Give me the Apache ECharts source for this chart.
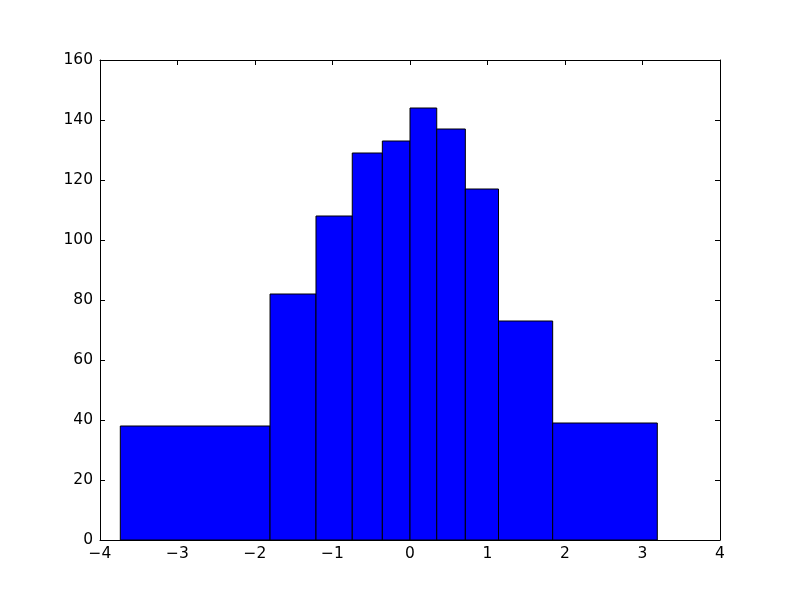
<!DOCTYPE html>
<html>
<head>
<meta charset="utf-8">
<script src="https://cdn.jsdelivr.net/npm/echarts@6/dist/echarts.min.js"></script>
<style>html,body{margin:0;padding:0;background:#fff}#c{width:800px;height:600px}</style>
</head>
<body>
<div id="c"></div>
<script>
// bin edges and counts
var binEdges = [-3.738, -1.806, -1.213, -0.745, -0.357, 0.0, 0.345, 0.714, 1.142, 1.841, 3.191];
var counts = [38, 82, 108, 129, 133, 144, 137, 117, 73, 39];
var xTicks = [-4, -3, -2, -1, 0, 1, 2, 3, 4];
var yTicks = [0, 20, 40, 60, 80, 100, 120, 140, 160];

var data = counts.map(function (c, i) { return [binEdges[i], binEdges[i + 1], c]; });
var font = 'DejaVu Sans';
function fmt(v) { return String(v).replace('-', '\u2212'); }

var common = {
  axisLine: { show: true, onZero: false, lineStyle: { color: '#000', width: 1 } },
  axisTick: { show: true, inside: true, length: 5, lineStyle: { color: '#000', width: 1 } },
  splitLine: { show: false }
};

var chart = echarts.init(document.getElementById('c'), null, { renderer: 'canvas' });
chart.setOption({
  animation: false,
  backgroundColor: '#fff',
  grid: { left: 100, right: 80, top: 60, bottom: 60, containLabel: false },
  xAxis: [
    Object.assign({ type: 'value', min: xTicks[0], max: xTicks[xTicks.length - 1], interval: 1, position: 'bottom',
      axisLabel: { color: '#000', fontFamily: font, fontSize: 15.5, margin: 6, formatter: fmt } }, common),
    Object.assign({ type: 'value', min: xTicks[0], max: xTicks[xTicks.length - 1], interval: 1, position: 'top',
      axisLabel: { show: false } }, common)
  ],
  yAxis: [
    Object.assign({ type: 'value', min: yTicks[0], max: yTicks[yTicks.length - 1], interval: 20, position: 'left',
      axisLabel: { color: '#000', fontFamily: font, fontSize: 15.5, margin: 7, formatter: fmt } }, common),
    Object.assign({ type: 'value', min: yTicks[0], max: yTicks[yTicks.length - 1], interval: 20, position: 'right',
      axisLabel: { show: false } }, common)
  ],
  series: [{
    type: 'custom',
    xAxisIndex: 0,
    yAxisIndex: 0,
    encode: { x: [0, 1], y: 2 },
    data: data,
    renderItem: function (params, api) {
      var p0 = api.coord([api.value(0), api.value(2)]);
      var p1 = api.coord([api.value(1), 0]);
      return {
        type: 'rect',
        shape: { x: p0[0], y: p0[1], width: p1[0] - p0[0], height: p1[1] - p0[1] },
        style: { fill: '#0000ff', stroke: '#000', lineWidth: 1 }
      };
    }
  }]
});
</script>
</body>
</html>
